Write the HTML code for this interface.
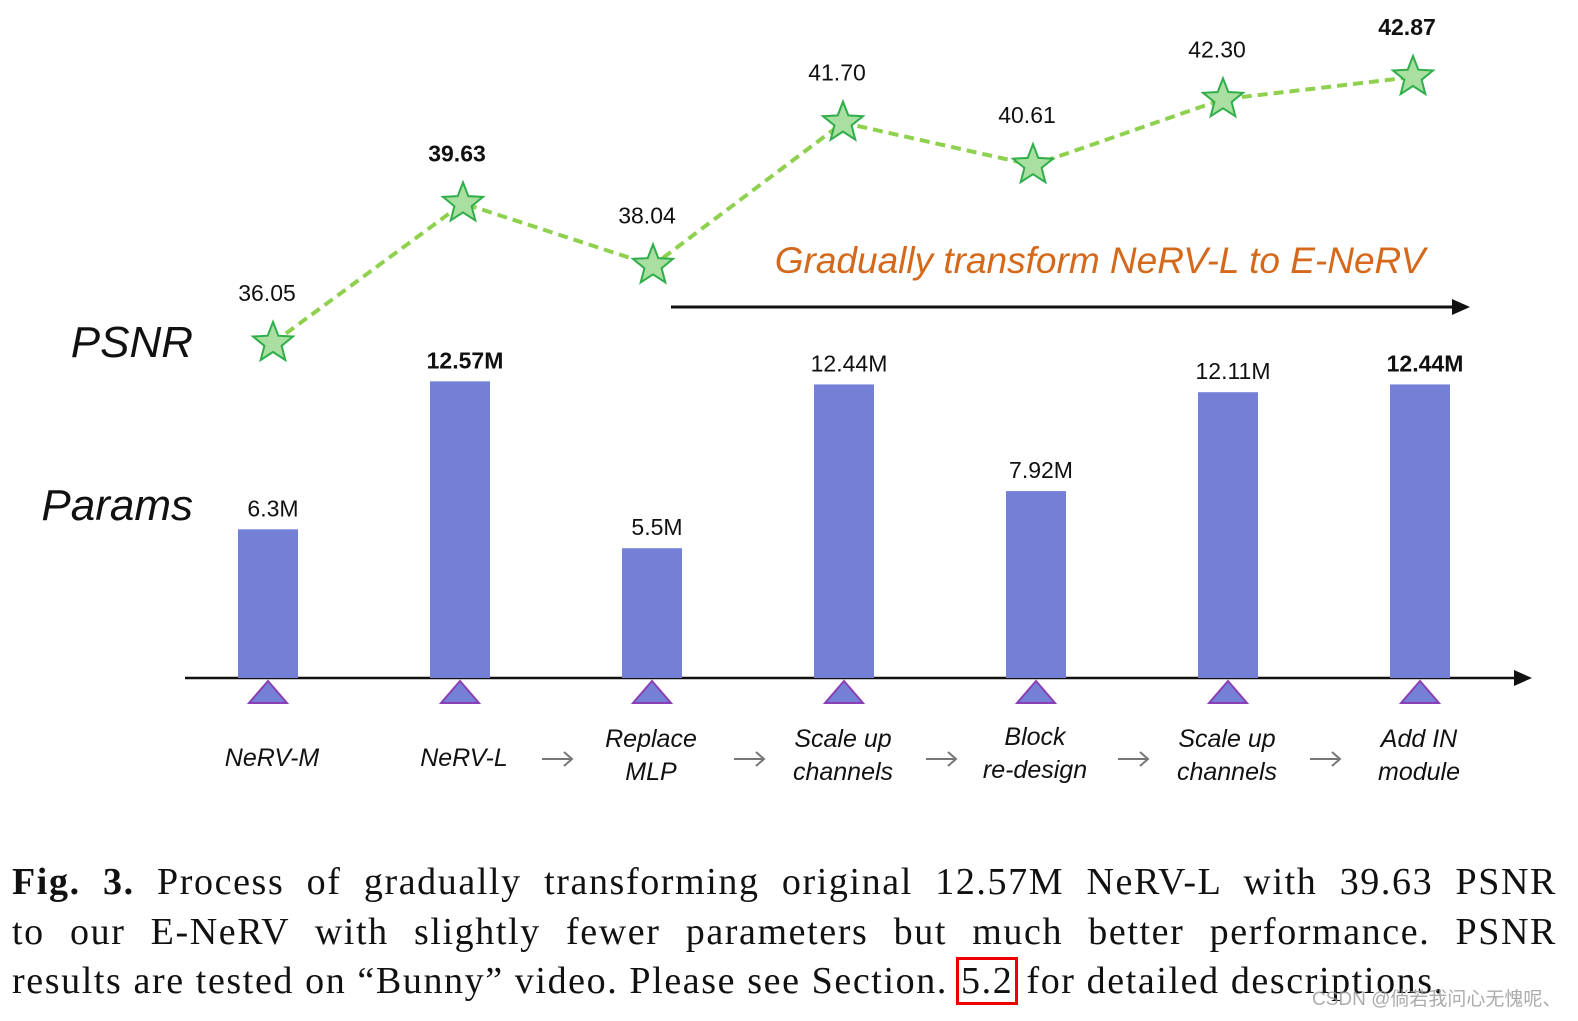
<!DOCTYPE html>
<html><head><meta charset="utf-8">
<style>
html,body{margin:0;padding:0;background:#fff;width:1578px;height:1021px;overflow:hidden}
svg{display:block}
.cap{position:absolute;left:12px;top:858px;width:1545px;font-family:"Liberation Serif",serif;font-size:38px;line-height:49.5px;color:#111;letter-spacing:1.6px}
.cap div{text-align:justify;text-align-last:justify;white-space:nowrap}
.cap div.last{text-align-last:left}
.wm{position:absolute;left:1312px;top:984px;font-family:"Liberation Sans","Noto Sans CJK SC",sans-serif;font-size:19px;color:rgba(150,150,150,0.8)}
</style></head><body>
<svg id="chart" width="1578" height="850" font-family="Liberation Sans, DejaVu Sans, sans-serif"></svg>
<div class="cap">
<div style="white-space:normal"><b>Fig. 3.</b> Process of gradually transforming original 12.57M NeRV-L with 39.63 PSNR</div>
<div style="white-space:normal">to our E-NeRV with slightly fewer parameters but much better performance. PSNR</div>
<div class="last">results are tested on “Bunny” video. Please see Section. <span style="outline:3px solid #e00;padding:0 2px">5.2</span> for detailed descriptions.</div>
</div>
<div class="wm">CSDN @倘若我问心无愧呢、</div>
<script>
const categories=[["NeRV-M"],["NeRV-L"],["Replace","MLP"],["Scale up","channels"],["Block","re-design"],["Scale up","channels"],["Add IN","module"]];
const params=[6.3,12.57,5.5,12.44,7.92,12.11,12.44];
const paramLabels=["6.3M","12.57M","5.5M","12.44M","7.92M","12.11M","12.44M"];
const paramBold=[false,true,false,false,false,false,true];
const psnr=[36.05,39.63,38.04,41.70,40.61,42.30,42.87];
const psnrLabels=["36.05","39.63","38.04","41.70","40.61","42.30","42.87"];
const psnrBold=[false,true,false,false,false,false,true];

const NS="http://www.w3.org/2000/svg";
const svg=document.getElementById('chart');
function mk(t,a,p){const e=document.createElementNS(NS,t);for(const k in a)e.setAttribute(k,a[k]);(p||svg).appendChild(e);return e;}
const base=678;
const barX=i=>268+192*i;
const starX=i=>273+190*i;
const yBar=v=>base-v*23.6;
const yPsnr=v=>343-(v-36.05)*39;

const ax=mk('line',{x1:185,y1:base,x2:1520,y2:base,stroke:'#111','stroke-width':2.5});


const ah=mk('polygon',{points:`1532,${base} 1514,${base-8} 1514,${base+8}`,fill:'#111'});



params.forEach((v,i)=>{
  const x=barX(i),y=yBar(v);
  const r=mk('rect',{x:x-30,y:y,width:60,height:base-y,fill:'#7480d6'});
  
  
  const t=mk('text',{x:x+5,y:y-13,'text-anchor':'middle','font-size':23,fill:'#111','font-weight':paramBold[i]?'bold':'normal'});
  t.textContent=paramLabels[i];
  
  
  const tri=mk('polygon',{points:`${x},${base+3} ${x+19},${base+25} ${x-19},${base+25}`,fill:'#7480d6',stroke:'#8a3fb5','stroke-width':2});
  
  
  const lines=categories[i];
  const y0=lines.length===1?766:(i===4?745:747);
  lines.forEach((l,j)=>{
    const ct=mk('text',{x:x+(i<2?4:-1),y:y0+j*33,'text-anchor':'middle','font-size':25,'font-style':'italic',fill:'#111'});
    ct.textContent=l;
    
    
  });
  if(i>=1&&i<6){
    const ax2=x+96, ay=759;
    const g=mk('g',{stroke:'#777','stroke-width':2,fill:'none'});
    
    
    mk('line',{x1:ax2-14,y1:ay,x2:ax2+16,y2:ay},g);
    mk('polyline',{points:`${ax2+8},${ay-7} ${ax2+16},${ay} ${ax2+8},${ay+7}`},g);
  }
});

const pts=psnr.map((v,i)=>starX(i)+','+yPsnr(v)).join(' ');
const pl=mk('polyline',{points:pts,fill:'none',stroke:'#8fd14f','stroke-width':4,'stroke-dasharray':'10,6'});


function star(cx,cy,R,r){let p=[];for(let k=0;k<10;k++){const a=-Math.PI/2+k*Math.PI/5;const rr=k%2?r:R;p.push((cx+rr*Math.cos(a)).toFixed(1)+','+(cy+rr*Math.sin(a)).toFixed(1));}return p.join(' ');}
psnr.forEach((v,i)=>{
  const x=starX(i),y=yPsnr(v);
  const s=mk('polygon',{points:star(x,y,21,9),fill:'#a9dfa0',stroke:'#2fae4a','stroke-width':2});
  
  
  const t=mk('text',{x:x-6,y:y-42,'text-anchor':'middle','font-size':23,fill:'#111','font-weight':psnrBold[i]?'bold':'normal'});
  t.textContent=psnrLabels[i];
  
  
});

const t1=mk('text',{x:193,y:357,'text-anchor':'end','font-size':44,'font-style':'italic',fill:'#111'});
t1.textContent='PSNR';


const t2=mk('text',{x:193,y:520,'text-anchor':'end','font-size':44,'font-style':'italic',fill:'#111'});
t2.textContent='Params';


const t3=mk('text',{x:1100,y:273,'text-anchor':'middle','font-size':37,'font-style':'italic',fill:'#d4691c'});
t3.textContent='Gradually transform NeRV-L to E-NeRV';


const l3=mk('line',{x1:671,y1:307,x2:1455,y2:307,stroke:'#111','stroke-width':3});


const h3=mk('polygon',{points:'1470,307 1452,299 1452,315',fill:'#111'});


</script>
</body></html>
